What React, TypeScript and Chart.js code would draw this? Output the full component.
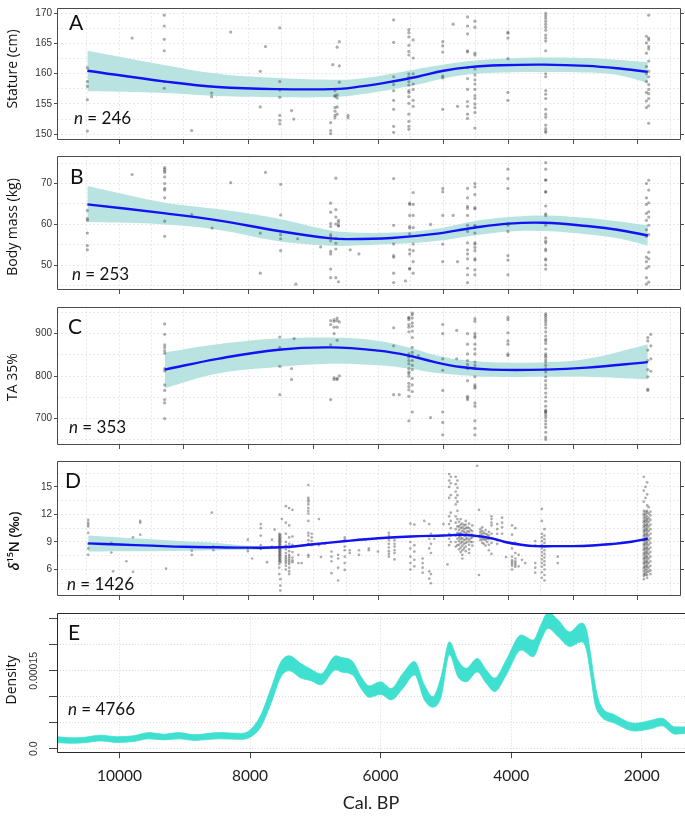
import { type FC, useEffect, useRef } from 'react';
import Chart from 'chart.js/auto';

type Cols = [number, number[]][];

// x axis (cal. BP, reversed)
const bpMin = 1337;
const bpMax = 10957;
const xGridBP = [10500, 10000, 9500, 9000, 8500, 8000, 7500, 7000, 6500, 6000, 5500, 5000, 4500, 4000, 3500, 3000, 2500, 2000, 1500];
const xLabelBP = [10000, 8000, 6000, 4000, 2000];

// A: stature
const statureTicks = [150, 152.5, 155, 157.5, 160, 162.5, 165, 167.5, 170];
const statureLabels = [150, 155, 160, 165, 170];
const statureCols: Cols = [
  [10489, [161.0, 158.7, 157.9, 155.7, 150.5]],
  [9799, [165.9]],
  [9303, [169.7, 167.9, 165.7, 163.8, 158.7, 157.6]],
  [8881, [150.6]],
  [8573, [156.8, 156.2]],
  [8279, [166.9]],
  [7823, [160.4, 154.5]],
  [7743, [164.5]],
  [7522, [167.6, 158.7, 157.3, 156.1, 153.1, 152.3, 151.7]],
  [7341, [153.9]],
  [7307, [152.5]],
  [6738, [151.9, 150.6, 150.1]],
  [6705, [161.5]],
  [6671, [157.2, 156.4, 156.2, 154.4, 153.8, 153.1, 152.7]],
  [6638, [164.4, 156.5, 156.0, 154.5, 153.3]],
  [6604, [165.3, 161.3, 158.6]],
  [6470, [153.1, 152.7]],
  [5767, [168.9, 165.2, 159.5, 158.2, 157.2, 155.6, 154.1, 151.3, 150.3]],
  [5533, [167.3, 166.8, 166.1, 164.7, 163.7, 163.1, 160.0, 159.5, 158.7, 158.1, 157.2, 156.9, 156.2, 155.1, 153.3, 152.1, 151.3, 150.8]],
  [5466, [165.6, 162.6, 160.0, 158.3, 157.4, 155.6, 154.6]],
  [5010, [165.3, 164.6, 163.6, 159.6, 159.3, 154.1]],
  [4849, [168.2]],
  [4782, [154.6]],
  [4628, [169.4, 167.9, 166.6, 163.8, 163.6, 161.0, 159.2, 157.4, 155.4, 154.6, 153.3, 152.6]],
  [4514, [168.7, 167.7, 163.4, 163.1, 160.8, 159.8, 159.0, 158.3, 157.4, 156.4, 155.9, 155.0, 154.4, 153.6, 151.0]],
  [4005, [166.9, 166.7, 165.9, 162.5, 156.9, 155.6]],
  [3423, [170.0, 169.6, 169.2, 168.7, 168.2, 167.7, 167.2, 166.4, 165.9, 165.4, 163.8, 160.0, 159.5, 157.2, 156.6, 155.9, 154.1, 153.3, 152.8, 151.5, 150.9, 150.5, 150.3]],
  [1870, [166.2, 165.1, 163.4, 161.2, 160.0, 158.7, 156.9, 155.5, 154.4]],
  [1835, [169.7, 165.9, 165.6, 164.5, 164.1, 162.1, 160.4, 159.5, 158.2, 157.4, 156.7, 155.9, 154.7, 151.8]],
];
const statureFitBP = [10489, 9283, 8480, 7542, 6604, 6269, 5800, 5399, 4997, 4595, 4126, 3456, 2786, 2318, 1849];
const statureFit = [160.5, 158.7, 157.8, 157.45, 157.5, 157.9, 158.7, 159.5, 160.5, 161.1, 161.4, 161.5, 161.3, 160.9, 160.3];
const statureHi = [163.8, 161.4, 160.0, 159.3, 159.0, 159.2, 160.0, 160.8, 161.5, 162.1, 162.5, 162.7, 162.6, 162.3, 161.9];
const statureLo = [157.1, 156.8, 156.3, 156.1, 156.2, 156.6, 157.4, 158.2, 159.2, 159.9, 160.2, 160.3, 160.2, 159.8, 158.5];

// B: body mass
const massTicks = [45, 50, 55, 60, 65, 70, 75];
const massLabels = [50, 60, 70];
const massCols: Cols = [
  [10489, [63.4, 61.4, 61.0, 57.9, 54.8, 53.8]],
  [9799, [72.2]],
  [9297, [73.9, 73.5, 73.1, 72.7, 71.6, 70.0, 68.8, 68.4, 66.5, 60.8, 57.1]],
  [8881, [62.4]],
  [8566, [59.1]],
  [8279, [70.2]],
  [7823, [57.9, 48.1]],
  [7743, [72.7]],
  [7509, [69.8, 62.3, 57.5, 56.5, 53.6]],
  [7274, [45.4]],
  [7247, [56.5]],
  [6892, [54.5]],
  [6738, [65.2, 63.0, 60.2, 59.5, 57.5, 57.0, 56.0, 53.4, 52.8, 49.1, 47.0]],
  [6658, [71.3, 63.6, 61.8, 60.1, 56.6, 55.4, 54.0, 47.0]],
  [6618, [61.0, 60.5, 59.8, 59.6, 46.0]],
  [6437, [53.8]],
  [6303, [52.8]],
  [5767, [71.2, 59.8, 55.2, 52.4, 52.0, 48.1, 45.8]],
  [5586, [46.2]],
  [5520, [65.2, 64.9, 62.2, 59.5, 59.1, 57.7, 53.8, 52.8, 49.3, 49.1]],
  [5466, [67.8, 64.9, 62.2, 59.2, 55.2, 53.6, 50.9, 48.1]],
  [5198, [60.0]],
  [5010, [68.8, 68.0, 62.2, 55.2, 50.9]],
  [4849, [62.2]],
  [4782, [50.9]],
  [4628, [68.8, 66.5, 64.4, 63.9, 62.2, 59.8, 58.3, 55.5, 53.8, 52.8, 51.6, 49.3, 47.7, 45.8]],
  [4514, [70.0, 69.2, 67.3, 64.1, 63.8, 59.8, 59.5, 57.9, 55.5, 55.2, 54.4, 53.6, 51.6, 51.3, 48.9, 47.7]],
  [4005, [73.5, 71.2, 68.8, 60.2, 59.8, 58.3, 52.4, 51.3, 47.7]],
  [3423, [75.1, 73.5, 70.9, 70.8, 68.0, 67.9, 64.5, 62.6, 62.2, 59.8, 56.7, 55.9, 55.5, 54.0, 53.6, 51.6, 51.3, 50.1, 49.1]],
  [1870, [70.0, 66.5, 64.9, 62.7, 61.0, 58.7, 57.1, 52.0, 50.9, 49.3, 47.0, 45.4]],
  [1835, [70.8, 68.4, 65.3, 63.1, 61.8, 59.8, 57.5, 53.2, 51.6, 49.7, 45.9]],
];
const massFitBP = [10489, 9283, 8480, 7542, 6738, 6470, 5800, 5131, 4528, 3992, 3456, 2786, 2318, 1849];
const massFit = [64.9, 62.7, 61.0, 58.4, 56.6, 56.4, 56.7, 57.7, 59.2, 60.2, 60.4, 59.6, 58.7, 57.3];
const massHi = [69.4, 65.3, 63.75, 61.4, 58.5, 58.1, 58.0, 58.9, 60.8, 61.8, 62.2, 61.6, 60.8, 59.8];
const massLo = [60.6, 60.0, 58.7, 55.9, 54.8, 54.8, 55.2, 55.9, 57.3, 58.3, 58.4, 57.6, 56.6, 54.8];

// C: TA 35%
const taTicks = [650, 700, 750, 800, 850, 900, 950];
const taLabels = [700, 800, 900];
const taCols: Cols = [
  [9297, [923.1, 898.5, 873.8, 867.7, 860.0, 853.8, 817.7, 812.3, 779.2, 766.2, 744.6, 736.9, 700.0]],
  [7522, [892.3, 867.7, 823.1, 756.2]],
  [7341, [817.7, 792.3]],
  [7301, [888.5]],
  [6738, [930.8, 921.5, 873.8, 744.6]],
  [6685, [933.1, 929.2, 915.4, 900.0, 796.2, 792.3]],
  [6638, [936.9, 930.8, 915.4, 884.6, 794.6, 792.3]],
  [6604, [927.7, 800.8]],
  [5767, [913.8, 871.5, 756.2]],
  [5680, [756.2]],
  [5533, [938.5, 937.0, 933.1, 921.5, 915.4, 904.6, 852.3, 848.5, 844.6, 836.9, 829.2, 817.7, 810.0, 806.2, 800.0, 783.1, 775.4, 767.7, 752.3, 694.6]],
  [5480, [948.5, 944.6, 936.9, 925.4, 917.7, 906.2, 890.8, 867.7, 856.2, 848.5, 836.9, 825.4, 815.4, 794.6, 779.2, 763.8, 715.4]],
  [5386, [848.5]],
  [5198, [702.3]],
  [5010, [921.5, 900.0, 840.8, 813.8, 766.2, 715.4, 690.8, 661.5]],
  [4795, [907.7, 840.8]],
  [4628, [900.0, 875.4, 852.3, 836.9, 827.7, 817.7, 789.2, 752.3, 748.5, 744.6]],
  [4514, [935.4, 929.2, 900.0, 894.6, 890.8, 875.4, 863.8, 852.3, 833.1, 825.4, 817.7, 798.5, 779.2, 775.4, 771.5, 736.9, 729.2, 694.6, 676.9, 661.5]],
  [4005, [938.5, 933.1, 902.3, 883.1, 875.4, 852.3, 848.5]],
  [3423, [946.9, 943.1, 938.5, 933.1, 927.7, 921.5, 913.8, 904.6, 894.6, 886.9, 883.1, 876.9, 863.8, 852.3, 848.5, 844.6, 838.5, 833.1, 825.4, 817.7, 810.0, 798.5, 789.2, 779.2, 771.5, 760.0, 750.8, 740.8, 729.2, 720.0, 717.7, 715.4, 713.8, 708.0, 702.3, 694.6, 686.9, 679.2, 667.7, 656.2, 650.8]],
  [1849, [890.8, 883.1, 861.5, 836.9, 815.4, 798.5, 769.2, 766.2]],
  [1802, [898.5, 871.5, 840.8, 811.5]],
];
const taFitBP = [9297, 8480, 7542, 6738, 6001, 5533, 5131, 4729, 4260, 3423, 2786, 1849];
const taFit = [815.4, 840.8, 862.3, 867.7, 860.0, 848.5, 833.0, 821.5, 815.4, 815.4, 820.0, 833.0];
const taHi = [856.0, 875.4, 888.5, 890.8, 883.0, 867.7, 850.0, 838.5, 833.0, 833.0, 840.8, 875.4];
const taLo = [771.5, 806.0, 821.5, 829.0, 825.4, 817.7, 807.7, 802.3, 798.5, 798.5, 798.5, 792.3];

// D: delta 15N
const nitrogenTicks = [4.5, 6, 7.5, 9, 10.5, 12, 13.5, 15, 16.5];
const nitrogenLabels = [6, 9, 12, 15];
const nitrogenCols: Cols = [
  [10476, [11.4, 11.1, 10.9, 10.7, 10.0, 8.8, 8.3, 7.6]],
  [10119, [8.9, 7.85]],
  [10093, [5.8]],
  [9888, [6.9]],
  [9786, [9.5, 5.75]],
  [9674, [11.3, 11.1, 9.8]],
  [9276, [6.1]],
  [8878, [8.05, 7.6]],
  [8571, [12.2]],
  [8546, [8.5, 8.1]],
  [8015, [9.25, 8.3, 8.0]],
  [7949, [7.2]],
  [7816, [10.95, 10.5, 9.7, 8.65, 8.3, 8.25]],
  [7719, [6.8]],
  [7643, [9.25, 8.5]],
  [7602, [10.35]],
  [7530, [9.9, 9.7, 9.5, 9.3, 9.1, 8.9, 8.7, 8.5, 8.3, 8.1, 7.9, 7.7, 7.5, 7.3, 7.1, 6.9, 6.6, 6.2, 5.5]],
  [7515, [9.8, 9.6, 9.4, 9.2, 9.0, 8.8, 8.6, 8.4, 8.2, 8.0, 7.8, 7.6, 7.4, 7.2, 7.0, 6.8, 4.95, 4.25, 3.7]],
  [7490, [11.5]],
  [7429, [12.9, 11.1, 9.9, 9.0, 8.6, 8.2, 7.8, 7.5, 7.3, 7.1, 6.9, 6.7, 6.4, 6.0]],
  [7378, [12.7, 10.8, 9.5, 8.8, 8.4, 8.0, 7.6, 7.4, 7.2, 7.0, 6.8, 6.6, 6.2, 5.8, 5.5]],
  [7327, [12.5, 9.6, 8.7, 7.9, 7.3, 7.0, 6.8]],
  [7235, [7.6, 6.7]],
  [7184, [6.7]],
  [7082, [15.2, 13.8, 13.6, 13.4, 13.1, 12.7, 12.4, 12.1, 11.3, 10.0, 9.7, 9.2, 8.8, 8.7, 7.6, 7.4]],
  [7031, [9.9, 9.5, 9.1, 8.65]],
  [6919, [11.5, 8.65]],
  [6888, [7.35]],
  [6827, [8.8]],
  [6725, [7.95, 7.4, 6.9, 5.6]],
  [6623, [7.6, 7.2, 6.2, 4.8]],
  [6521, [9.5, 9.25, 8.5, 8.1, 7.4, 6.7, 5.95]],
  [6444, [8.1, 7.8]],
  [6301, [8.1, 7.6]],
  [6214, [9.25]],
  [6150, [8.1, 8.3]],
  [6009, [7.95]],
  [5841, [10.0, 9.7, 9.2, 8.8, 8.4, 8.0, 7.7, 7.4]],
  [5754, [9.2, 8.8, 8.5, 8.1, 7.8, 7.1]],
  [5509, [11.0, 9.0, 8.3, 7.4, 6.7, 6.0]],
  [5448, [10.9, 8.65, 7.95, 7.05, 6.35]],
  [5320, [7.2, 6.7, 6.2, 5.65]],
  [5295, [11.3]],
  [5218, [10.95, 9.35, 8.3, 5.8, 5.0]],
  [5192, [9.9, 8.8, 7.8, 5.5, 4.5]],
  [5141, [9.35]],
  [4999, [10.95]],
  [4937, [6.55]],
  [4912, [16.4, 15.7, 15.0, 13.8, 11.8, 10.95, 9.9, 9.35, 8.65]],
  [4886, [16.1, 15.4, 14.1, 12.2, 11.3, 10.5, 9.7, 9.0]],
  [4810, [16.1, 15.3, 14.5, 13.8, 13.1, 11.8, 11.1, 10.4, 9.7, 9.0, 8.5]],
  [4784, [15.7, 14.9, 14.1, 13.4, 12.4, 11.5, 10.7, 10.0, 9.35, 8.65]],
  [4759, [11.2, 10.7, 10.3, 9.9, 9.5, 9.1, 8.7, 8.2]],
  [4733, [11.5, 10.9, 10.5, 10.0, 9.6, 9.3, 8.9, 8.4, 7.9]],
  [4708, [11.0, 10.6, 10.2, 9.8, 9.4, 9.0, 8.6, 8.1, 7.6, 7.2]],
  [4682, [10.8, 10.4, 10.1, 9.7, 9.2, 8.8, 8.3]],
  [4656, [11.3, 10.9, 10.5, 10.0, 9.6, 9.3, 8.9, 8.5, 8.0]],
  [4630, [10.6, 10.2, 9.9, 9.4, 9.0]],
  [4605, [11.0, 10.5, 10.1, 9.7, 9.2, 8.7, 8.2, 7.8]],
  [4580, [10.3, 9.8, 9.4, 9.0]],
  [4554, [10.8, 10.2, 9.8, 9.5, 9.0, 8.6]],
  [4478, [17.3]],
  [4452, [12.5, 5.4]],
  [4430, [10.4, 10.1, 9.8, 9.5, 9.2]],
  [4401, [10.6, 10.2, 9.9, 9.6, 9.3, 8.9]],
  [4376, [10.0, 9.6, 9.3, 8.8]],
  [4350, [10.3, 9.9, 9.5, 9.2, 8.6]],
  [4325, [9.8, 9.4, 9.0]],
  [4299, [10.1, 9.7, 9.3, 8.7, 8.1]],
  [4258, [11.8, 11.5, 11.1, 10.8, 9.9, 9.4, 8.9, 7.7]],
  [4171, [10.95, 10.4, 9.9, 9.2, 8.8]],
  [4095, [11.65, 11.1, 10.6, 9.9]],
  [4034, [7.35]],
  [3942, [10.8, 9.8, 8.3, 7.4, 7.0, 6.8, 6.6, 6.4, 6.0]],
  [3891, [10.5, 8.9, 7.8, 7.2, 6.9, 6.7, 6.5, 6.3]],
  [3840, [7.6, 6.35]],
  [3789, [7.05]],
  [3738, [6.7]],
  [3584, [9.1, 8.65, 6.7, 6.2, 5.65]],
  [3482, [12.6, 11.3, 9.9, 9.5, 9.1, 8.7, 8.3, 7.9, 7.5, 7.1, 6.7, 6.3, 5.7, 5.1]],
  [3442, [10.4, 9.7, 9.3, 8.9, 8.5, 8.1, 7.7, 7.3, 6.9, 6.5, 6.0, 5.4, 4.8]],
  [3237, [7.4, 6.7]],
  [1910, [16.1, 14.6, 13.4, 12.4, 12.1, 11.9, 11.6, 11.3, 11.1, 10.8, 10.6, 10.3, 10.1, 9.8, 9.6, 9.3, 9.1, 8.8, 8.6, 8.3, 8.1, 7.8, 7.6, 7.3, 7.1, 6.8, 6.6, 6.3, 6.1, 5.8, 5.5, 5.3, 4.95]],
  [1885, [15.0, 13.8, 12.3, 12.0, 11.7, 11.4, 11.2, 10.9, 10.7, 10.4, 10.2, 9.9, 9.7, 9.4, 9.2, 8.9, 8.7, 8.4, 8.2, 7.9, 7.7, 7.4, 7.2, 6.9, 6.7, 6.4, 6.2, 5.9, 5.6, 5.4]],
  [1859, [15.5, 14.2, 13.0, 12.4, 12.2, 11.8, 11.5, 11.3, 11.0, 10.8, 10.5, 10.3, 10.0, 9.8, 9.5, 9.3, 9.0, 8.8, 8.5, 8.3, 8.0, 7.8, 7.5, 7.3, 7.0, 6.8, 6.5, 6.3, 6.0, 5.7, 5.4, 5.1]],
  [1835, [12.8, 12.1, 11.6, 11.2, 10.7, 10.2, 9.7, 9.2, 8.7, 8.2, 7.7, 7.2, 6.7, 6.2, 5.8]],
  [1808, [12.3, 11.9, 11.4, 10.9, 10.4, 9.9, 9.4, 8.9, 8.4, 7.9, 7.4, 6.9, 6.4, 5.9, 5.5]],
];
const nitrogenFitBP = [10476, 10000, 9500, 9000, 8500, 8000, 7500, 7000, 6500, 6000, 5500, 5000, 4700, 4450, 4250, 4050, 3800, 3586, 3300, 3000, 2700, 2400, 2100, 1850];
const nitrogenFit = [8.85, 8.72, 8.6, 8.48, 8.42, 8.38, 8.42, 8.75, 9.1, 9.4, 9.6, 9.7, 9.78, 9.62, 9.4, 9.0, 8.7, 8.55, 8.55, 8.55, 8.62, 8.78, 9.02, 9.35];
const nitrogenHi = [9.7, 9.5, 9.3, 9.07, 8.9, 8.6, 8.55, 8.86, 9.2, 9.5, 9.7, 9.8, 9.9, 9.75, 9.52, 9.12, 8.82, 8.67, 8.67, 8.67, 8.74, 8.9, 9.14, 9.52];
const nitrogenLo = [7.95, 7.98, 8.0, 8.05, 8.1, 8.15, 8.3, 8.64, 9.0, 9.3, 9.5, 9.6, 9.66, 9.49, 9.28, 8.88, 8.58, 8.43, 8.43, 8.43, 8.5, 8.66, 8.9, 9.18];

// E: summed probability density band
const densityTicks = [0, 5e-5, 1e-4, 1.5e-4, 2e-4, 2.5e-4];
const densityTickText: [number, string][] = [[0, '0.0'], [1.5e-4, '0.00015']];
const densityBP = [10990, 10950, 10750, 10540, 10290, 10035, 9780, 9550, 9320, 9090, 8855, 8470, 8140, 8000, 7835, 7680, 7525, 7400, 7220, 7067, 6915, 6685, 6608, 6428, 6300, 6173, 6000, 5840, 5660, 5482, 5329, 5200, 5073, 4945, 4817, 4689, 4520, 4382, 4254, 4075, 3845, 3665, 3540, 3435, 3281, 3102, 2923, 2846, 2780, 2718, 2641, 2411, 2104, 1848, 1695, 1490, 1310];
const densityHi = [2.3e-5, 2.3e-5, 2.1e-5, 2.2e-5, 2.6e-5, 2.3e-5, 2.5e-5, 3.1e-5, 2.8e-5, 3.1e-5, 2.7e-5, 3.1e-5, 2.95e-5, 3.6e-5, 6.5e-5, 11.6e-5, 16.8e-5, 17.9e-5, 16.4e-5, 15.3e-5, 14.4e-5, 17.9e-5, 17.6e-5, 16.8e-5, 13.9e-5, 12.1e-5, 12.9e-5, 11.6e-5, 14.5e-5, 16.8e-5, 12.3e-5, 10.0e-5, 13.9e-5, 20.6e-5, 17.1e-5, 15.5e-5, 17.4e-5, 15.2e-5, 13.6e-5, 17.1e-5, 21.9e-5, 20.9e-5, 24.0e-5, 26.3e-5, 24.8e-5, 22.5e-5, 24.2e-5, 22.9e-5, 18.0e-5, 12.6e-5, 8.7e-5, 6.5e-5, 4.9e-5, 5.5e-5, 5.9e-5, 4.2e-5, 4.2e-5];
const densityLo = [1.15e-5, 1.15e-5, 1.05e-5, 1.15e-5, 1.5e-5, 1.2e-5, 1.4e-5, 1.9e-5, 1.7e-5, 1.9e-5, 1.6e-5, 1.9e-5, 1.8e-5, 2.2e-5, 4.2e-5, 8.7e-5, 13.9e-5, 15.0e-5, 13.6e-5, 13.1e-5, 12.3e-5, 15.2e-5, 14.8e-5, 14.2e-5, 11.6e-5, 9.9e-5, 10.5e-5, 9.4e-5, 11.6e-5, 14.2e-5, 9.4e-5, 8.0e-5, 10.0e-5, 18.1e-5, 13.9e-5, 12.9e-5, 14.8e-5, 12.6e-5, 11.0e-5, 14.2e-5, 19.0e-5, 17.7e-5, 21.0e-5, 23.2e-5, 21.6e-5, 19.7e-5, 20.6e-5, 19.0e-5, 14.0e-5, 8.7e-5, 6.5e-5, 4.9e-5, 3.4e-5, 3.9e-5, 4.4e-5, 2.8e-5, 3.0e-5];

const GRID = '#e0e0e0';
const TICK = '#4d4d4d';
const BLUE = '#1212f2';
const BAND = '#b8e3e1';
const TURQ = '#40e0d0';
const POINT = 'rgba(60,60,60,0.42)';
const tickFont = { family: '"Liberation Sans", Arial, sans-serif', size: 10 };

const has = (list: number[], v: number) => list.some((m) => Math.abs(m - v) < 1e-9);
const toPoints = (cols: Cols) => cols.flatMap(([bp, vals]) => vals.map((v) => ({ x: bp, y: v })));
const toLine = (bp: number[], vals: number[]) => bp.map((x, i) => ({ x, y: vals[i] }));

const boxPlugin = {
  id: 'panelBox',
  afterDraw(chart: any, _a: any, o: any) {
    const { ctx, chartArea } = chart;
    const l = Math.round(chartArea.left) + 0.5;
    const t = Math.round(chartArea.top) + 0.5;
    const r = Math.round(chartArea.right) - 0.5;
    const b = Math.round(chartArea.bottom) - 0.5;
    ctx.save();
    ctx.strokeStyle = o.color;
    ctx.lineWidth = 1;
    ctx.beginPath();
    ctx.moveTo(o.open ? chart.width + 2 : r, t);
    ctx.lineTo(l, t);
    ctx.lineTo(l, b);
    ctx.lineTo(o.open ? chart.width + 2 : r, b);
    if (!o.open) ctx.closePath();
    ctx.stroke();
    ctx.restore();
  },
};

const textPlugin = {
  id: 'panelText',
  afterDraw(chart: any, _a: any, o: any) {
    const { ctx } = chart;
    ctx.save();
    ctx.fillStyle = '#111';
    ctx.textBaseline = 'alphabetic';
    ctx.textAlign = 'left';
    ctx.font = '21px Lato, sans-serif';
    ctx.fillText(o.letter, o.lx, o.ly);
    ctx.font = 'italic 17px Lato, sans-serif';
    ctx.fillText('n', o.nx, o.ny);
    const w = ctx.measureText('n').width;
    ctx.font = '17px Lato, sans-serif';
    ctx.fillText(' = ' + o.count, o.nx + w, o.ny);
    if (o.yText) {
      const y = chart.scales.y;
      ctx.font = '10.5px "Liberation Sans", Arial, sans-serif';
      ctx.fillStyle = '#333';
      ctx.textAlign = 'center';
      ctx.textBaseline = 'middle';
      o.yText.forEach(([v, s]: [number, string]) => {
        ctx.save();
        ctx.translate(34.5, y.getPixelForValue(v));
        ctx.rotate(-Math.PI / 2);
        ctx.fillText(s, 0, 0);
        ctx.restore();
      });
    }
    ctx.restore();
  },
};

interface ScatterPanel {
  cols: Cols;
  fitBP: number[];
  fit: number[];
  hi: number[];
  lo: number[];
  yMin: number;
  yMax: number;
  yTicks: number[];
  yLabels: number[];
  padTop: number;
  radius: number;
  text: { letter: string; count: string; lx: number; ly: number; nx: number; ny: number };
}

const scatterConfig = (p: ScatterPanel): any => {
  const yTickBuild = (s: any) => {
    s.ticks = p.yTicks.map((v) => ({ value: v }));
  };
  const majorTick = (c: any) => (has(p.yLabels, c.tick.value) ? TICK : 'transparent');
  return {
    type: 'line',
    data: {
      datasets: [
        { data: toLine(p.fitBP, p.fit), borderColor: BLUE, borderWidth: 2.4, pointRadius: 0, tension: 0.4, fill: false, order: 0 },
        { data: toPoints(p.cols), showLine: false, pointRadius: p.radius, pointBackgroundColor: POINT, pointBorderWidth: 0, order: 1 },
        { data: toLine(p.fitBP, p.hi), borderWidth: 0, pointRadius: 0, tension: 0.4, fill: '+1', backgroundColor: BAND, order: 2 },
        { data: toLine(p.fitBP, p.lo), borderWidth: 0, pointRadius: 0, tension: 0.4, fill: false, order: 3 },
      ],
    },
    options: {
      animation: false,
      responsive: true,
      maintainAspectRatio: false,
      events: [],
      layout: { padding: { top: p.padTop, left: 0, right: 0, bottom: 0 } },
      plugins: { legend: { display: false }, tooltip: { enabled: false }, panelBox: { color: '#4a4a4a' }, panelText: p.text },
      scales: {
        x: {
          type: 'linear', reverse: true, min: bpMin, max: bpMax,
          afterBuildTicks: (s: any) => { s.ticks = xGridBP.map((v) => ({ value: v })); },
          afterFit: (s: any) => { s.height = 5; },
          ticks: { display: false },
          grid: { color: GRID, lineWidth: 0.7, tickLength: 4, tickWidth: 1, tickColor: (c: any) => (c.tick.value % 1000 === 0 ? TICK : 'transparent') },
          border: { display: false, dash: [2, 2] },
        },
        y: {
          min: p.yMin, max: p.yMax,
          afterBuildTicks: yTickBuild,
          afterFit: (s: any) => { s.width = 57; },
          ticks: { autoSkip: false, padding: 2, font: tickFont, color: '#333', callback: (v: number) => (has(p.yLabels, v) ? String(v) : '') },
          grid: { color: GRID, lineWidth: 0.7, tickLength: 3, tickWidth: 1, tickColor: majorTick },
          border: { display: false, dash: [2, 2] },
        },
        y2: {
          position: 'right', min: p.yMin, max: p.yMax,
          afterBuildTicks: yTickBuild,
          afterFit: (s: any) => { s.width = 3; },
          ticks: { display: false },
          grid: { drawOnChartArea: false, tickLength: 3, tickWidth: 1, tickColor: majorTick },
          border: { display: false },
        },
      },
    },
    plugins: [boxPlugin, textPlugin],
  };
};

const statureMake = () => scatterConfig({
  cols: statureCols, fitBP: statureFitBP, fit: statureFit, hi: statureHi, lo: statureLo,
  yMin: 149.03, yMax: 170.88, yTicks: statureTicks, yLabels: statureLabels, padTop: 1, radius: 1.6,
  text: { letter: 'A', count: '246', lx: 69, ly: 30, nx: 74, ny: 124 },
});
const massMake = () => scatterConfig({
  cols: massCols, fitBP: massFitBP, fit: massFit, hi: massHi, lo: massLo,
  yMin: 43.98, yMax: 76.72, yTicks: massTicks, yLabels: massLabels, padTop: 5, radius: 1.6,
  text: { letter: 'B', count: '253', lx: 70, ly: 36, nx: 72, ny: 132 },
});
const taMake = () => scatterConfig({
  cols: taCols, fitBP: taFitBP, fit: taFit, hi: taHi, lo: taLo,
  yMin: 637.6, yMax: 963.7, yTicks: taTicks, yLabels: taLabels, padTop: 8.7, radius: 1.6,
  text: { letter: 'C', count: '353', lx: 68, ly: 36, nx: 69, ny: 135 },
});
const nitrogenMake = () => scatterConfig({
  cols: nitrogenCols, fitBP: nitrogenFitBP, fit: nitrogenFit, hi: nitrogenHi, lo: nitrogenLo,
  yMin: 3.11, yMax: 17.83, yTicks: nitrogenTicks, yLabels: nitrogenLabels, padTop: 7, radius: 1.35,
  text: { letter: 'D', count: '1426', lx: 65, ly: 35, nx: 67, ny: 137 },
});

const densityMake = (): any => ({
  type: 'line',
  data: {
    datasets: [
      { data: toLine(densityBP, densityHi), borderColor: TURQ, borderWidth: 0.8, pointRadius: 0, cubicInterpolationMode: 'monotone', fill: '+1', backgroundColor: TURQ },
      { data: toLine(densityBP, densityLo), borderColor: TURQ, borderWidth: 0.8, pointRadius: 0, cubicInterpolationMode: 'monotone', fill: false },
    ],
  },
  options: {
    animation: false,
    responsive: true,
    maintainAspectRatio: false,
    events: [],
    layout: { padding: { top: 9.3, left: 0, right: 0, bottom: 0 } },
    plugins: {
      legend: { display: false }, tooltip: { enabled: false },
      panelBox: { color: '#2a2a2a', open: true },
      panelText: { letter: 'E', count: '4766', lx: 68, ly: 36, nx: 68, ny: 111, yText: densityTickText },
    },
    scales: {
      x: {
        type: 'linear', reverse: true, min: bpMin, max: bpMax,
        afterBuildTicks: (s: any) => { s.ticks = xLabelBP.map((v) => ({ value: v })); },
        afterFit: (s: any) => { s.height = 63.7; },
        ticks: { autoSkip: false, maxRotation: 0, padding: 8, color: '#222', font: { family: 'Lato, sans-serif', size: 15.5 }, callback: (v: number) => String(v) },
        grid: { color: '#d2d2d2', lineWidth: 0.8, tickLength: 5, tickWidth: 1, tickColor: '#444' },
        border: { display: false, dash: [1, 2] },
        title: { display: true, text: 'Cal. BP', color: '#222', font: { family: 'Lato, sans-serif', size: 18 }, padding: { top: 0, bottom: 3 } },
      },
      y: {
        min: -0.886e-5, max: 2.609e-4,
        afterBuildTicks: (s: any) => { s.ticks = densityTicks.map((v) => ({ value: v })); },
        afterFit: (s: any) => { s.width = 57; },
        ticks: { display: false },
        grid: { color: '#d2d2d2', lineWidth: 0.8, tickLength: 8, tickWidth: 1, tickColor: '#444' },
        border: { display: false, dash: [1, 2] },
      },
    },
  },
  plugins: [boxPlugin, textPlugin],
});

const ChartBox: FC<{ top: number; height: number; make: () => any }> = ({ top, height, make }) => {
  const ref = useRef<HTMLCanvasElement>(null);
  useEffect(() => {
    if (!ref.current) return;
    const chart = new Chart(ref.current, make());
    return () => chart.destroy();
  }, [make]);
  return (
    <div style={{ position: 'absolute', left: 0, top, width: 685, height }}>
      <canvas ref={ref} />
    </div>
  );
};

const YTitle: FC<{ cx: number; cy: number; bold?: boolean; children: any }> = ({ cx, cy, bold, children }) => (
  <div
    style={{
      position: 'absolute', left: cx, top: cy, transform: 'translate(-50%, -50%) rotate(-90deg)',
      whiteSpace: 'nowrap', fontFamily: '"Open Sans", "Noto Sans", sans-serif', fontSize: 14,
      fontWeight: bold ? 600 : 400, color: '#111', lineHeight: 1,
    }}
  >
    {children}
  </div>
);

export default function App() {
  return (
    <div style={{ position: 'absolute', left: 0, top: 0, width: 685, height: 817, background: '#fff', overflow: 'hidden' }}>
      <ChartBox top={0} height={148} make={statureMake} />
      <ChartBox top={148} height={150} make={massMake} />
      <ChartBox top={298} height={155} make={taMake} />
      <ChartBox top={453} height={151} make={nitrogenMake} />
      <ChartBox top={604} height={213} make={densityMake} />
      <YTitle cx={12} cy={69}>Stature (cm)</YTitle>
      <YTitle cx={12} cy={227}>Body mass (kg)</YTitle>
      <YTitle cx={12} cy={377}>TA 35%</YTitle>
      <YTitle cx={13} cy={541} bold>
        <i>δ</i><sup style={{ fontSize: 9 }}>15</sup>N (‰)
      </YTitle>
      <YTitle cx={11} cy={680}>Density</YTitle>
    </div>
  );
}
